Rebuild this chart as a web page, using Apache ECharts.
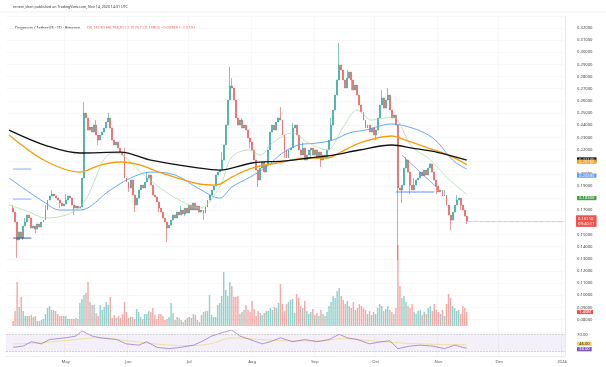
<!DOCTYPE html>
<html><head><meta charset="utf-8">
<script src="https://cdn.jsdelivr.net/npm/echarts/dist/echarts.min.js"></script>
<style>html,body{margin:0;padding:0;background:#fff}#c{width:606px;height:367px}</style>
</head><body><div id="c"></div>
<script>
// ---------- data ----------
const startDate = '2023-04-02';          // first category
const dayCount = 276;                    // categories on the x axis
const firstCandle = 3;                   // index of the first candle (Apr 5)
const firstOpen = 0.1718;

const closes = [
0.1685,0.1603,0.1455,0.1521,0.1471,0.1570,0.1603,0.1661,0.1636,0.1554,
0.1570,0.1545,0.1587,0.1562,0.1603,0.1619,0.1702,0.1784,0.1817,0.1833,
0.1817,0.1800,0.1784,0.1759,0.1735,0.1751,0.1784,0.1817,0.1800,0.1743,
0.1718,0.1735,0.1718,0.1726,0.1965,0.2500,0.2459,0.2360,0.2385,0.2344,
0.2401,0.2319,0.2278,0.2319,0.2344,0.2377,0.2426,0.2459,0.2377,0.2278,
0.2237,0.2261,0.2212,0.2179,0.2154,0.1965,0.1932,0.1883,0.1949,0.1825,
0.1743,0.1800,0.1866,0.1907,0.1883,0.1932,0.1965,0.1990,0.1907,0.1825,
0.1809,0.1768,0.1718,0.1685,0.1636,0.1603,0.1554,0.1578,0.1619,0.1661,
0.1636,0.1685,0.1661,0.1702,0.1669,0.1718,0.1677,0.1743,0.1702,0.1759,
0.1702,0.1735,0.1685,0.1702,0.1677,0.1726,0.1784,0.1825,0.1866,0.1899,
0.1990,0.2014,0.2031,0.2113,0.2237,0.2401,0.2607,0.2722,0.2706,0.2607,
0.2459,0.2401,0.2442,0.2377,0.2401,0.2360,0.2294,0.2261,0.2196,0.2113,
0.2031,0.1949,0.2047,0.2097,0.2014,0.2072,0.2196,0.2344,0.2401,0.2360,
0.2426,0.2459,0.2442,0.2319,0.2196,0.2130,0.2196,0.2212,0.2377,0.2401,
0.2319,0.2196,0.2154,0.2212,0.2113,0.2154,0.2196,0.2212,0.2154,0.2196,
0.2130,0.2179,0.2113,0.2154,0.2130,0.2196,0.2278,0.2401,0.2525,0.2648,
0.2772,0.2895,0.2854,0.2772,0.2706,0.2788,0.2837,0.2772,0.2689,0.2730,
0.2648,0.2566,0.2508,0.2442,0.2377,0.2401,0.2344,0.2377,0.2319,0.2360,
0.2459,0.2566,0.2624,0.2541,0.2607,0.2648,0.2525,0.2459,0.2484,0.2401,
0.1883,0.1866,0.1907,0.2047,0.2113,0.2014,0.1907,0.1866,0.1907,0.1949,
0.1965,0.2014,0.1982,0.2031,0.1990,0.2047,0.2080,0.2014,0.1949,0.1899,
0.1850,0.1866,0.1817,0.1825,0.1743,0.1661,0.1619,0.1685,0.1743,0.1784,
0.1800,0.1743,0.1702,0.1652,0.1611
];
// wick extremes (category index -> price)
const highs = {3:0.1743,9:0.1636,19:0.1743,22:0.1866,29:0.1833,38:0.2591,44:0.2442,50:0.2500,58:0.2212,69:0.2014,
  86:0.1735,106:0.2180,110:0.2879,111:0.2788,116:0.2459,135:0.2549,141:0.2418,146:0.2261,160:0.2459,164:0.3076,
  168:0.2854,175:0.2566,185:0.2689,188:0.2706,197:0.2138,201:0.1965,209:0.2089,216:0.1866,222:0.1825};
const lows = {5:0.1307,8:0.1455,14:0.1512,26:0.1718,33:0.1661,45:0.2237,60:0.1850,63:0.1685,75:0.1685,79:0.1438,
  88:0.1652,97:0.1619,100:0.1784,120:0.2212,124:0.1891,137:0.2130,150:0.2130,155:0.2056,170:0.2689,182:0.2278,
  193:0.1290,195:0.1759,199:0.1833,212:0.1833,219:0.1537,224:0.1702,227:0.1587};

const volumes = [
5,15,44,19,29,15,10,10,10,11, 9,10,5,5,6,7,12,18,20,16, 16,15,12,10,10,10,10,7,7,7,
7,8,7,23,27,31,33,44,24,21, 21,13,10,21,16,19,24,21,29,8, 11,8,10,8,12,24,14,8,9,9,
7,17,14,9,7,12,12,15,14,18, 11,7,12,12,10,6,7,9,23,13, 6,9,8,6,4,6,8,9,8,12,
11,6,4,11,14,15,15,31,11,9, 9,21,23,30,54,36,30,44,40,29, 29,30,12,14,16,21,16,14,25,17,
10,15,13,11,13,15,15,18,16,19, 18,23,42,22,15,22,24,26,27,13, 32,28,20,18,25,15,12,14,17,11,
13,10,16,12,10,14,20,24,30,28, 35,38,30,26,22,25,20,18,24,16, 18,22,20,18,16,12,15,11,14,12,
18,22,20,15,17,20,16,14,12,18, 81,40,28,30,24,20,18,22,14,12, 15,16,11,14,12,18,20,15,22,16,
14,12,16,10,22,32,28,20,18,15, 16,12,20,18,14
];

// moving averages, read at points along each line: [category index, price]
const maBlack  = [[1,0.2360],[20,0.2228],[36,0.2171],[56,0.2179],[71,0.2113],[95,0.2047],[105,0.2031],[121,0.2089],[136,0.2105],[149,0.2130],[161,0.2154],[174,0.2196],[190,0.2237],[200,0.2212],[213,0.2175],[227,0.2113]];
const maOrange = [[1,0.2319],[19,0.2105],[36,0.2014],[46,0.2072],[56,0.2097],[66,0.2072],[75,0.2014],[95,0.1916],[103,0.1907],[111,0.1973],[121,0.2047],[136,0.2097],[148,0.2130],[158,0.2130],[164,0.2171],[174,0.2253],[190,0.2311],[194,0.2294],[208,0.2212],[218,0.2154],[227,0.2076]];
const maBlue   = [[1,0.1965],[19,0.1759],[26,0.1702],[36,0.1702],[51,0.1866],[61,0.1965],[71,0.2014],[83,0.1990],[95,0.1875],[105,0.1800],[111,0.1891],[120,0.1973],[128,0.2056],[136,0.2171],[144,0.2237],[153,0.2253],[161,0.2278],[169,0.2336],[177,0.2360],[190,0.2410],[200,0.2377],[208,0.2319],[213,0.2253],[220,0.2113],[227,0.2039]];
const maGreen  = [[1,0.1743],[11,0.1685],[19,0.1636],[36,0.1726],[52,0.2171],[57,0.2154],[66,0.2014],[75,0.1891],[85,0.1784],[95,0.1718],[105,0.1891],[111,0.2138],[120,0.2196],[125,0.2154],[131,0.2253],[141,0.2336],[149,0.2253],[158,0.2196],[166,0.2385],[173,0.2525],[180,0.2442],[190,0.2467],[200,0.2220],[208,0.2130],[217,0.1973],[227,0.1830]];

// drawn trend lines
const leftLines = [[[3,0.2039],[12,0.2039]],[[3,0.1792],[12,0.1792]],[[3,0.1471],[12,0.1471]]];
const octFlat = [[192,0.1850],[211,0.1850]];
const octDiag = [[195,0.2154],[212,0.1891]];

// RSI
const rsi = [[3,40],[8,43],[12,53],[17,48],[21,58],[29,62],[34,66],[37,78],[42,66],[46,62],[54,58],[59,48],[65,45],[69,53],[74,40],[80,37],[86,40],[92,45],[96,53],[101,66],[107,75],[111,80],[115,66],[120,58],[126,48],[130,53],[135,62],[141,53],[147,58],[153,53],[159,58],[164,70],[168,62],[173,58],[179,48],[185,53],[189,55],[193,37],[199,43],[204,45],[210,43],[216,37],[221,45],[225,40],[227,38]];
const rsiMa = [[3,48],[15,50],[30,56],[45,62],[60,55],[75,47],[90,44],[100,48],[112,62],[125,58],[140,55],[155,55],[165,60],[180,55],[195,50],[210,47],[227,46]];

const monthNames = ['2024','Feb','Mar','Apr','May','Jun','Jul','Aug','Sep','Oct','Nov','Dec'];
const headerLine1 = 'ernest_shen published on TradingView.com, Nov 14, 2023 14:31 UTC';
const headerSymbol = 'Dogecoin / TetherUS · 1D · Binance';
const headerOHLC = 'O0.16130 H0.16620 L0.15757 C0.15804 −0.00389 (−2.32%)';

// ---------- build ----------
const cats = [];
const t0 = Date.parse(startDate + 'T00:00:00Z');
for (let k = 0; k < dayCount; k++) cats.push(new Date(t0 + k * 86400000).toISOString().slice(0, 10));
const isMonthStart = (i) => !!cats[i] && cats[i].slice(8) === '01';

const UP = '#26a69a', DN = '#ef5350';
const candleData = [], volData = [];
for (let k = 0; k < firstCandle; k++) { candleData.push('-'); volData.push('-'); }
let prev = firstOpen;
closes.forEach((c, j) => {
  const idx = j + firstCandle;
  const o = prev;
  const hi = Math.max(o, c, highs[idx] || 0);
  const lo = Math.min(o, c, lows[idx] || Infinity);
  candleData.push([o, c, lo, hi]);
  volData.push({ value: volumes[j], itemStyle: { color: c >= o ? 'rgba(38,166,154,0.5)' : 'rgba(239,83,80,0.5)' } });
  prev = c;
});
const lastIdx = firstCandle + closes.length - 1;
const lastClose = closes[closes.length - 1];

const FS = 4.2, FF = 'Noto Sans';
const HIDDEN = { width: 0, color: 'rgba(0,0,0,0)' };
function tagLabel(text, bg, fg, dy) {
  return { show: true, position: 'end', distance: 12, formatter: text, backgroundColor: bg, color: fg || '#fff',
    fontSize: FS, fontFamily: FF, padding: [0, 2], lineHeight: 4.2, align: 'left', verticalAlign: 'middle',
    offset: [0, dy || 0] };
}
function tag(val, text, bg, fg, dy) {
  return { silent: true, symbol: 'none', animation: false, lineStyle: HIDDEN,
    label: tagLabel(text, bg, fg, dy), emphasis: { disabled: true }, data: [{ yAxis: val }] };
}
function ma(data, color, width, tagColor, z, dy) {
  const last = data[data.length - 1][1];
  return { type: 'line', xAxisIndex: 0, yAxisIndex: 0, data, smooth: 0.35, symbol: 'none', z: z || 4,
    lineStyle: { color, width }, labelLayout: { hideOverlap: false },
    markLine: tag(last, last.toFixed(5), tagColor || color, null, dy) };
}
function seg(data, color, width) {
  return { type: 'line', xAxisIndex: 0, yAxisIndex: 0, data, symbol: 'none', z: 5, lineStyle: { color, width } };
}

const L = 6, R = 41;
const xBase = (grid, showLabels) => ({
  type: 'category', gridIndex: grid, data: cats, boundaryGap: true,
  axisLine: { show: showLabels, lineStyle: { color: '#e3e3e3', width: 0.6 } }, axisTick: { show: false },
  axisLabel: showLabels ? { interval: (i) => isMonthStart(i), formatter: (v) => monthNames[parseInt(v.slice(5, 7), 10) - 1],
    fontSize: FS, fontFamily: FF, color: '#555', margin: 4 } : { show: false },
  splitLine: { show: grid !== 1, interval: (i) => isMonthStart(i), lineStyle: { color: '#f1f1f1', width: 0.6 } }
});

const rsiLast = rsi[rsi.length - 1][1], rsiMaLast = rsiMa[rsiMa.length - 1][1];

const chart = echarts.init(document.getElementById('c'), null, { renderer: 'canvas' });
chart.setOption({
  animation: false,
  backgroundColor: '#fff',
  grid: [
    { left: L, right: R, top: 15.85, height: 315.9 },
    { left: L, right: R, top: 226, height: 100 },
    { left: L, right: R, top: 330, height: 26 }
  ],
  xAxis: [xBase(0, false), xBase(1, false), xBase(2, true)],
  yAxis: [
    { type: 'value', gridIndex: 0, position: 'right', min: 0.07, max: 0.33, interval: 0.01,
      axisLine: { show: true, lineStyle: { color: '#e3e3e3', width: 0.6 } }, axisTick: { show: false },
      axisLabel: { formatter: (v) => v.toFixed(5), fontSize: FS, fontFamily: FF, color: '#444', margin: 12,
        showMinLabel: false, showMaxLabel: false },
      splitLine: { lineStyle: { color: '#f3f3f3', width: 0.6 } } },
    { type: 'value', gridIndex: 1, min: 0, max: 100, show: false },
    { type: 'value', gridIndex: 2, position: 'right', min: 20, max: 80, interval: 10,
      axisLine: { show: true, lineStyle: { color: '#e3e3e3', width: 0.6 } }, axisTick: { show: false },
      axisLabel: { formatter: (v) => (v === 70 ? '70.00' : ''), fontSize: FS, fontFamily: FF, color: '#444', margin: 12 },
      splitLine: { show: false } }
  ],
  graphic: [
    { type: 'line', shape: { x1: 0, y1: 12, x2: 606, y2: 12 }, style: { stroke: '#e6e6e6', lineWidth: 0.6 }, silent: true },
    { type: 'text', left: 13, top: 5, style: { text: headerLine1, fontSize: 3.6, fontFamily: FF, fill: '#333' } },
    { type: 'text', left: 15, top: 22, style: { text: '{a|' + headerSymbol + '}  {b|' + headerOHLC + '}',
      rich: { a: { fill: '#222', fontSize: 4, fontFamily: FF }, b: { fill: DN, fontSize: 4, fontFamily: FF } } } }
  ],
  series: [
    { type: 'bar', xAxisIndex: 1, yAxisIndex: 1, data: volData, barWidth: '72%', z: 1,
      markLine: tag(volumes[volumes.length - 1], (volumes[volumes.length - 1] / 10).toFixed(2) + 'M', DN) },
    { type: 'candlestick', xAxisIndex: 0, yAxisIndex: 0, data: candleData, barWidth: '70%', z: 3,
      itemStyle: { color: UP, color0: DN, borderColor: UP, borderColor0: DN, borderWidth: 0.6 },
      markLine: { silent: true, symbol: 'none', animation: false,
        lineStyle: { color: DN, type: 'dotted', width: 0.6 },
        label: Object.assign(tagLabel(lastClose.toFixed(5) + '\n09:40:11', DN), { padding: [1, 2], lineHeight: 4.8 }),
        data: [[{ coord: [lastIdx, lastClose] }, { coord: [dayCount - 1, lastClose] }]] } },
    ma(maBlack, '#111111', 1.3, '#111111', 6, -2.2),
    ma(maOrange, '#f59e0b', 1.3, '#f59e0b', 5, 0),
    ma(maBlue, '#5b9cf6', 0.9, '#5b9cf6', 4, 1.8),
    ma(maGreen, '#a5d6a7', 0.7, '#43a047', 4, 0),
    seg(leftLines[0], '#5b9cf6', 0.8),
    seg(leftLines[1], '#5b9cf6', 0.8),
    seg(leftLines[2], '#2a4a9a', 0.9),
    seg(octFlat, '#2f7cf6', 0.8),
    seg(octDiag, '#2f7cf6', 0.6),
    { type: 'line', xAxisIndex: 2, yAxisIndex: 2, data: rsi, symbol: 'none', z: 3,
      lineStyle: { color: '#7e57c2', width: 0.6 },
      markArea: { silent: true, itemStyle: { color: 'rgba(126,87,194,0.09)' }, data: [[{ yAxis: 30 }, { yAxis: 70 }]] },
      markLine: { silent: true, symbol: 'none', animation: false, emphasis: { disabled: true },
        data: [
          { yAxis: 70, lineStyle: { color: '#b0b0b0', type: 'dashed', width: 0.5 }, label: { show: false } },
          { yAxis: 30, lineStyle: { color: '#b0b0b0', type: 'dashed', width: 0.5 }, label: { show: false } },
          { yAxis: rsiLast, lineStyle: HIDDEN, label: tagLabel(rsiLast.toFixed(2), '#7e57c2', '#fff', 1) }
        ] } },
    { type: 'line', xAxisIndex: 2, yAxisIndex: 2, data: rsiMa, symbol: 'none', smooth: 0.4, z: 2,
      lineStyle: { color: '#f4d35e', width: 0.6 },
      markLine: tag(rsiMaLast, rsiMaLast.toFixed(2), '#f4d35e', '#333', -1) }
  ]
});
</script>
</body></html>
